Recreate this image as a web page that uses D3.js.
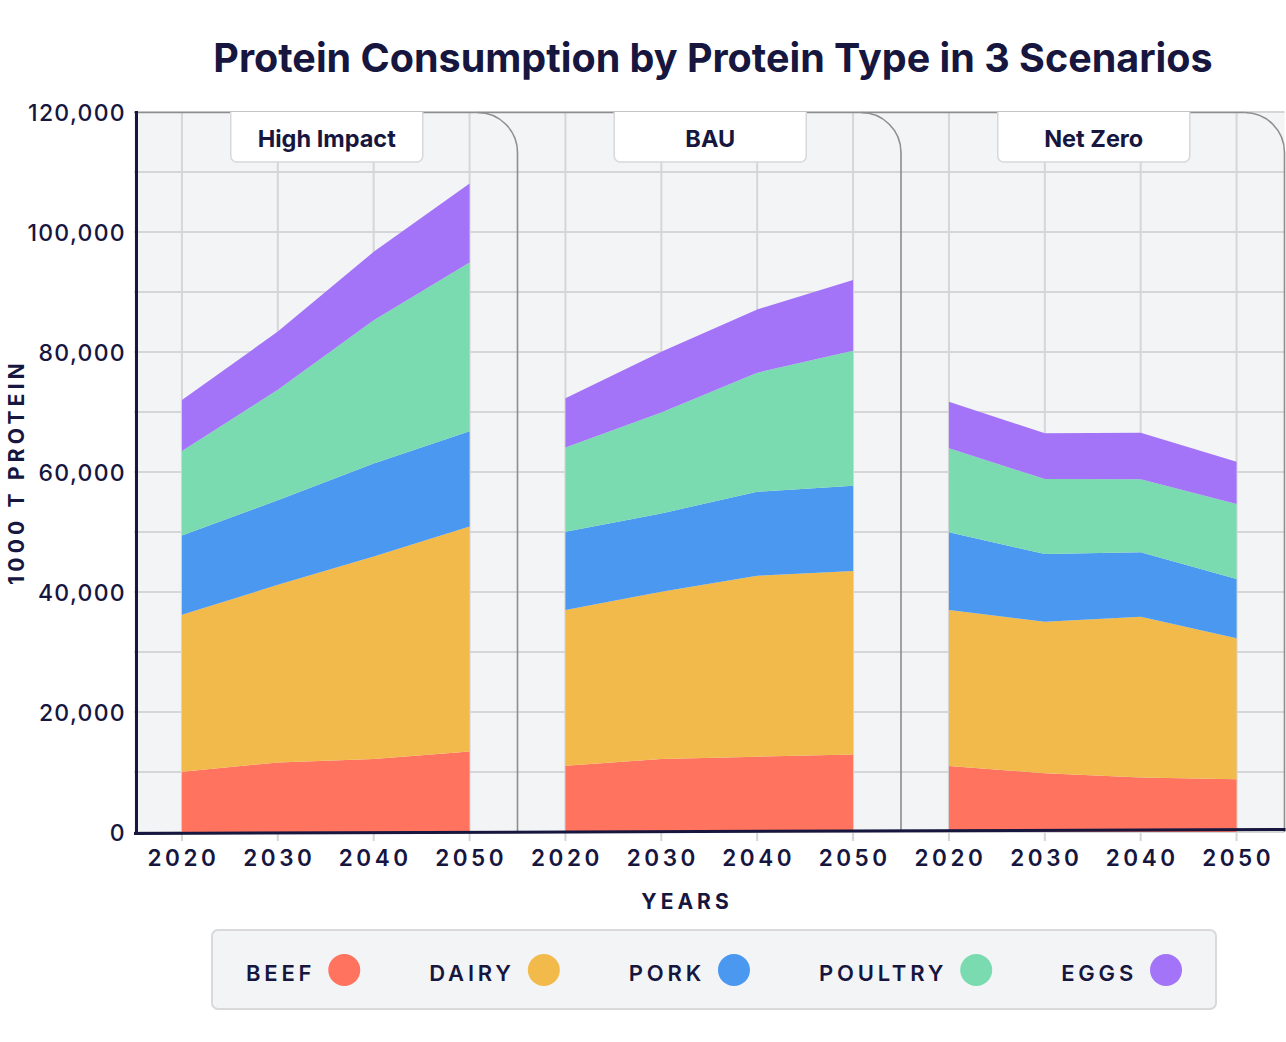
<!DOCTYPE html>
<html>
<head>
<meta charset="utf-8">
<script src="https://cdn.jsdelivr.net/npm/d3@7"></script>
<style>
  html, body { margin: 0; padding: 0; background: #ffffff; }
  svg { display: block; font-family: Inter, "Noto Sans", sans-serif; }
</style>
</head>
<body>
<svg id="chart" width="1286" height="1042"></svg>
<script>
// ---------------- DATA ----------------
const chartTitle = "Protein Consumption by Protein Type in 3 Scenarios";
const scenarios = ["High Impact", "BAU", "Net Zero"];
const years = [2020, 2030, 2040, 2050];
const proteins = ["BEEF", "DAIRY", "PORK", "POULTRY", "EGGS"];
const proteinColors = ["#ff735f", "#f2ba4a", "#4b98f1", "#79dbaf", "#a374f8"];
const yTickValues = [0, 20000, 40000, 60000, 80000, 100000, 120000];
const yGridValues = [0, 10000, 20000, 30000, 40000, 50000, 60000, 70000, 80000, 90000, 100000, 110000, 120000];
const yLabel = "1000 T PROTEIN";
const xLabel = "YEARS";

// rows: BEEF, DAIRY, PORK, POULTRY, EGGS ; columns: 2020, 2030, 2040, 2050
const highImpactValues = [
  [10050, 11600, 12150, 13400],
  [26150, 29600, 33750, 37500],
  [13200, 14100, 15500, 15900],
  [14100, 18400, 23900, 28100],
  [8500, 9700, 11400, 13200]
];
const bauValues = [
  [11050, 12150, 12550, 12900],
  [25950, 27900, 30150, 30600],
  [13050, 13050, 14000, 14200],
  [14050, 16800, 19850, 22500],
  [8200, 10150, 10550, 11800]
];
const netZeroValues = [
  [11000, 9800, 9100, 8800],
  [26000, 25250, 26790, 23480],
  [12950, 11280, 10720, 9890],
  [14000, 12500, 12170, 12500],
  [7750, 7620, 7770, 7030]
];
const scenarioValues = [highImpactValues, bauValues, netZeroValues];

// ---------------- LAYOUT ----------------
const ink = "#16163f";
const svg = d3.select("#chart");
const plotLeft = 134, plotRight = 1284.5, plotTop = 112, plotBottom = 832;

const panelScale = d3.scaleBand().domain(scenarios).range([plotLeft, plotRight]).padding(0);
const bw = panelScale.bandwidth();
const xInner = d3.scalePoint().domain(years).range([0, bw]).padding(0.5);
const y = d3.scaleLinear().domain([0, 120000]).range([plotBottom, plotTop]);

// background
svg.append("rect").attr("x", plotLeft).attr("y", plotTop)
  .attr("width", plotRight - plotLeft).attr("height", plotBottom - plotTop)
  .attr("fill", "#f3f4f6");

// horizontal grid
svg.append("g").selectAll("line").data(yGridValues).join("line")
  .attr("x1", plotLeft).attr("x2", plotRight)
  .attr("y1", d => y(d)).attr("y2", d => y(d))
  .attr("stroke", "#d6d6d8").attr("stroke-width", 2);

// panels
scenarios.forEach((sc, i) => {
  const x0 = panelScale(sc);
  const g = svg.append("g").attr("transform", `translate(${x0},0)`);
  // vertical grid + ticks
  g.append("g").selectAll("line").data(years).join("line")
    .attr("x1", d => xInner(d)).attr("x2", d => xInner(d))
    .attr("y1", plotTop).attr("y2", plotBottom + 9)
    .attr("stroke", "#d6d6d8").attr("stroke-width", 2);

  // stacked areas
  const vals = scenarioValues[i];
  const table = years.map((yr, j) => {
    const row = { year: yr };
    proteins.forEach((p, k) => row[p] = vals[k][j]);
    return row;
  });
  const stack = d3.stack().keys(proteins)(table);
  const area = d3.area()
    .x(d => xInner(d.data.year))
    .y0(d => y(d[0]))
    .y1(d => y(d[1]));
  g.append("g").selectAll("path").data(stack).join("path")
    .attr("d", area)
    .attr("fill", (d, k) => proteinColors[k]);

  // x tick labels
  g.append("g").selectAll("text").data(years).join("text")
    .attr("x", d => xInner(d) + 1.5)
    .attr("y", 866)
    .attr("text-anchor", "middle")
    .attr("font-size", 22.5)
    .attr("font-weight", 600)
    .attr("letter-spacing", 3.5)
    .attr("fill", ink)
    .text(d => d);
});

// panel borders (top line + rounded top-right corners)
const r = 40;
svg.append("line").attr("x1", plotLeft).attr("x2", plotRight - r)
  .attr("y1", plotTop + 0.5).attr("y2", plotTop + 0.5)
  .attr("stroke", "#8e8e8e").attr("stroke-width", 1.6);
scenarios.forEach(sc => {
  const xr = panelScale(sc) + bw;
  const p = d3.path();
  p.moveTo(xr - r, plotTop + 0.5);
  p.arcTo(xr, plotTop + 0.5, xr, plotTop + r, r);
  p.lineTo(xr, plotBottom);
  svg.append("path").attr("d", p.toString()).attr("fill", "none")
    .attr("stroke", "#8e8e8e").attr("stroke-width", 1.6);
});

// header boxes
scenarios.forEach(sc => {
  const cx = panelScale(sc) + bw / 2 + 1;
  const w = 192, h = 50, rr = 6, x0 = cx - w / 2, y0 = plotTop;
  const p = d3.path();
  p.moveTo(x0, y0);
  p.lineTo(x0, y0 + h - rr);
  p.arcTo(x0, y0 + h, x0 + rr, y0 + h, rr);
  p.lineTo(x0 + w - rr, y0 + h);
  p.arcTo(x0 + w, y0 + h, x0 + w, y0 + h - rr, rr);
  p.lineTo(x0 + w, y0);
  svg.append("path").attr("d", p.toString()).attr("fill", "#ffffff")
    .attr("stroke", "#d8d8da").attr("stroke-width", 1.5);
  svg.append("text").attr("x", cx).attr("y", 147)
    .attr("text-anchor", "middle").attr("font-size", 23.5).attr("font-weight", 700)
    .attr("fill", ink).text(sc);
});

// y axis labels
svg.append("g").selectAll("text").data(yTickValues).join("text")
  .attr("x", 126).attr("y", d => y(d) + 8.5)
  .attr("text-anchor", "end")
  .attr("font-size", 23).attr("font-weight", 500)
  .attr("letter-spacing", 1.3)
  .attr("fill", ink)
  .text(d => d3.format(",")(d));

// axis lines
svg.append("line").attr("x1", 136.5).attr("x2", 136.5)
  .attr("y1", plotTop - 1).attr("y2", plotBottom + 2)
  .attr("stroke", ink).attr("stroke-width", 3);
svg.append("line").attr("x1", plotLeft).attr("x2", plotRight + 1)
  .attr("y1", plotBottom + 1.5).attr("y2", plotBottom - 2.5)
  .attr("stroke", ink).attr("stroke-width", 3);

// axis titles
svg.append("text")
  .attr("transform", "translate(24,472) rotate(-90)")
  .attr("text-anchor", "middle")
  .attr("font-size", 21).attr("font-weight", 700)
  .attr("letter-spacing", 4.2)
  .attr("fill", ink).text(yLabel);
svg.append("text").attr("x", 687).attr("y", 909)
  .attr("text-anchor", "middle")
  .attr("font-size", 21).attr("font-weight", 700)
  .attr("letter-spacing", 4)
  .attr("fill", ink).text(xLabel);

// title
svg.append("text").attr("x", 713).attr("y", 72)
  .attr("text-anchor", "middle")
  .attr("font-size", 39.5).attr("font-weight", 700)
  .attr("fill", ink).text(chartTitle);

// legend
svg.append("rect").attr("x", 212).attr("y", 930).attr("width", 1004).attr("height", 79)
  .attr("rx", 6).attr("fill", "#f3f4f6").attr("stroke", "#d9d9db").attr("stroke-width", 2);
const lg = svg.append("g");
const items = proteins.map((p, k) => {
  const t = lg.append("text").attr("y", 980.5)
    .attr("font-size", 22).attr("font-weight", 600).attr("letter-spacing", 3.8)
    .attr("fill", ink).text(p);
  const c = lg.append("circle").attr("cy", 970).attr("r", 16).attr("fill", proteinColors[k]);
  return { t, c, w: t.node().getComputedTextLength() };
});
const gapTC = 13, r2 = 16, gapItem = 69;
const total = d3.sum(items, d => d.w + gapTC + 2 * r2) + gapItem * (items.length - 1);
let cur = 714 - total / 2;
items.forEach(it => {
  it.t.attr("x", cur);
  it.c.attr("cx", cur + it.w + gapTC + r2);
  cur += it.w + gapTC + 2 * r2 + gapItem;
});
</script>
</body>
</html>
